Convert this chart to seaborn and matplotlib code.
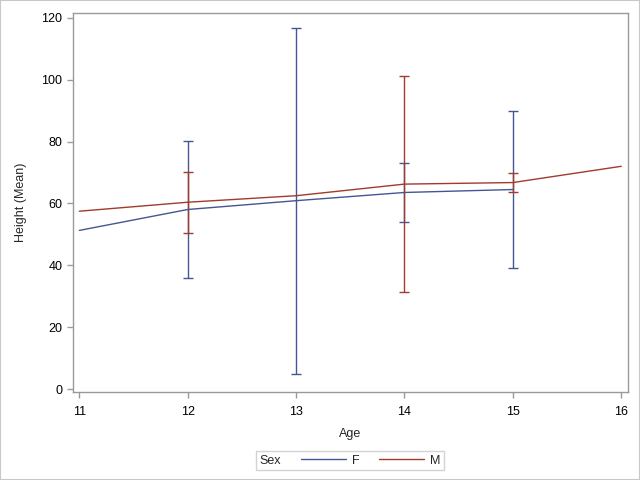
import numpy as np
import pandas as pd
import seaborn as sns
import matplotlib
matplotlib.use("Agg")
import matplotlib.pyplot as plt
from matplotlib.patches import Rectangle

# mean height by age, per sex
ages_f = [11, 12, 13, 14, 15]
height_f = [51.3, 58.05, 60.9, 63.55, 64.5]
ages_m = [11, 12, 13, 14, 15, 16]
height_m = [57.5, 60.4, 62.5, 66.25, 66.75, 72.0]

# confidence limits (only where there is more than one student)
err_ages_f = [12, 13, 14, 15]
lower_f = [35.8, 5.0, 54.0, 39.1]
upper_f = [80.3, 116.8, 73.1, 89.9]
err_ages_m = [12, 14, 15]
lower_m = [50.6, 31.3, 63.6]
upper_m = [70.1, 101.2, 69.9]

blue = '#445694'
red = '#A23A2E'
grey = '#9a9a9a'

sns.set_style('white')
plt.rcParams['font.family'] = ['Liberation Sans', 'DejaVu Sans']

df = pd.DataFrame({
    'Age': ages_f + ages_m,
    'Height': height_f + height_m,
    'Sex': ['F'] * len(ages_f) + ['M'] * len(ages_m),
})

fig = plt.figure(figsize=(6.4, 4.8), dpi=100)
ax = fig.add_axes([0.1133, 0.1827, 0.8684, 0.7896])

# error bars
for ages, lo, hi, col in [(err_ages_f, lower_f, upper_f, blue),
                          (err_ages_m, lower_m, upper_m, red)]:
    mid = (np.array(lo) + np.array(hi)) / 2
    half = (np.array(hi) - np.array(lo)) / 2
    ax.errorbar(ages, mid, yerr=half, fmt='none', ecolor=col,
                elinewidth=1, capsize=3.6, capthick=1, zorder=2)

sns.lineplot(data=df, x='Age', y='Height', hue='Sex',
             palette={'F': blue, 'M': red}, linewidth=1,
             errorbar=None, ax=ax, zorder=3)

ax.set_xlim(10.937, 16.065)
ax.set_ylim(-0.97, 121.4)
ax.set_xticks([11, 12, 13, 14, 15, 16])
ax.set_yticks([0, 20, 40, 60, 80, 100, 120])
ax.set_xlabel('Age', fontsize=9, labelpad=7)
ax.set_ylabel('Height (Mean)', fontsize=9, labelpad=10)
ax.tick_params(axis='both', direction='out', length=4.3, width=1,
               color=grey, labelsize=9, labelcolor='black',
               bottom=True, left=True)
ax.tick_params(axis='x', pad=5.5)
ax.tick_params(axis='y', pad=3)
for s in ax.spines.values():
    s.set_color(grey)
    s.set_linewidth(1)

# legend with the title on the left
ax.get_legend().remove()
handles, labels = ax.get_legend_handles_labels()
leg = fig.legend(handles, labels, title='Sex', ncol=2, loc='center',
                 bbox_to_anchor=(0.547, 0.0406), fontsize=9,
                 title_fontsize=9, handlelength=3.6, handletextpad=0.5,
                 columnspacing=0.8, frameon=True, fancybox=False,
                 borderpad=0.3, edgecolor='#c8c8c8')
leg.get_frame().set_linewidth(1)
box = leg.get_children()[0]
title = box.get_children()[0]
hpack = box.get_children()[1]
box._children = [hpack]
hpack._children = [title] + hpack.get_children()
hpack.sep = 14

fig.patches.append(Rectangle((0, 0), 1, 1, transform=fig.transFigure,
                             fill=False, edgecolor='#c8c8c8', lw=1.5))

fig.savefig('out.png', dpi=100)
